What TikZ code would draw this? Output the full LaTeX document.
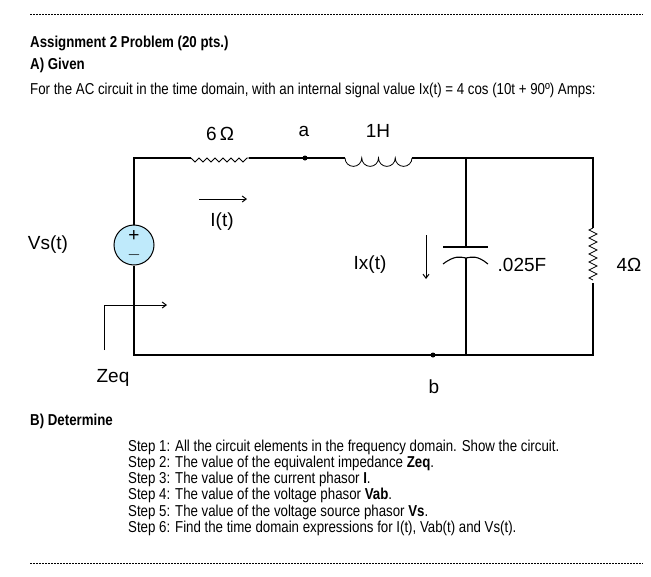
\documentclass[tikz,border=0pt]{standalone}
\usepackage{fontspec}
\usetikzlibrary{arrows.meta}
\setmainfont{Liberation Sans}[FakeStretch=0.84]
\newfontfamily\cfont{Liberation Sans}
\begin{document}
\begin{tikzpicture}[x=1pt,y=-1pt,
  wire/.style={line width=1.1pt},
  lbl/.style={font=\cfont\fontsize{19}{19}\selectfont,inner sep=0},
  txt/.style={anchor=west,inner sep=0,font=\fontsize{15.8}{17}\selectfont},
  hdash/.style={dash pattern=on 2pt off 1pt,line width=0.6pt},
  arr/.style={-{Straight Barb[length=4pt,width=6pt]},line width=1pt}]
\useasboundingbox (0,0) rectangle (651,576);
\draw[hdash] (30,14) -- (643,14);
\draw[hdash] (30,563) -- (643,563);
\node[txt] at (30,43) {\bfseries Assignment 2 Problem (20 pts.)};
\node[txt] at (30,65) {\bfseries A) Given};
\node[txt] at (30,90) {For the AC circuit in the time domain, with an internal signal value Ix(t) = 4 cos (10t + 90º) Amps:};
\node[txt] at (30,421) {\bfseries B) Determine};
\node[txt] at (128,447) {Step 1: All the circuit elements in the frequency domain. Show the circuit.};
\node[txt] at (128,463) {Step 2: The value of the equivalent impedance \textbf{Zeq}.};
\node[txt] at (128,479) {Step 3: The value of the current phasor \textbf{I}.};
\node[txt] at (128,495) {Step 4: The value of the voltage phasor \textbf{Vab}.};
\node[txt] at (128,512) {Step 5: The value of the voltage source phasor \textbf{Vs}.};
\node[txt] at (128,528) {Step 6: Find the time domain expressions for I(t), Vab(t) and Vs(t).};
% circuit
\coordinate (tl) at (134,158); \coordinate (bl) at (134,355);
\coordinate (r1a) at (191,158); \coordinate (r1b) at (249,158);
\coordinate (a) at (305,158);
\coordinate (l1a) at (345,158); \coordinate (l1b) at (412,158);
\coordinate (ct) at (466,158); \coordinate (cb) at (466,355);
\coordinate (tr) at (593,158); \coordinate (br) at (593,355);
\coordinate (r2a) at (593,228); \coordinate (r2b) at (593,283);
\coordinate (b) at (433,355);
\node[circle,draw,line width=1pt,fill=cyan!25,minimum size=40pt,inner sep=0] (vs) at (134,245) {};
\node[lbl] at (134,236) {+}; \node[lbl] at (134,255) {$-$};
\draw[wire] (vs.north) -- (tl) -- (r1a);
\draw[line width=0.8pt] (r1a) -- ++(4,4) \foreach \i in {1,...,6}{ -- ++(4,-4) -- ++(4,4)} -- ++(4,-4) -- (r1b);
\draw[wire] (r1b) -- (a) -- (l1a);
\draw[line width=0.8pt] (l1a) \foreach \i in {1,...,4}{ arc[start angle=180,end angle=0,radius=8.375]} ;
\draw[wire] (l1b) -- (ct) -- (tr) -- (r2a);
\draw[line width=0.8pt] (r2a) -- ++(-4,2) \foreach \i in {1,...,6}{ -- ++(8,4) -- ++(-8,4)} -- ++(4,2);
\draw[wire] (r2b) -- (br) -- (cb) -- (b) -- (bl) -- (vs.south);
\draw[wire] (ct) -- (466,247);
\draw[wire] (443,247) -- (488,247);
\draw[wire] (443,264) .. controls (455,255) and (460,257) .. (466,258) .. controls (472,257) and (477,255) .. (488,264);
\draw[wire] (466,258) -- (cb);
\fill (a) circle (2.5); \fill (b) circle (2.5);
\coordinate (z0) at (104,350); \coordinate (z1) at (104,305); \coordinate (z2) at (167,305);
\draw[arr] (z0) -- (z1) -- (z2);
\coordinate (i0) at (199,199); \coordinate (i1) at (247,199);
\draw[arr] (i0) -- (i1);
\coordinate (x0) at (426,235); \coordinate (x1) at (426,279);
\draw[arr] (x0) -- (x1);
\node[lbl] at (220,134) {6\,Ω};
\node[lbl] at (304,131) {a};
\node[lbl] at (378,131) {1H};
\node[lbl] at (222,222) {I(t)};
\node[lbl] at (48,245) {Vs(t)};
\node[lbl] at (370,265) {Ix(t)};
\node[lbl] at (522,265) {.025F};
\node[lbl] at (629,265) {4Ω};
\node[lbl] at (113,378) {Zeq};
\node[lbl] at (434,387) {b};
\end{tikzpicture}
\end{document}
